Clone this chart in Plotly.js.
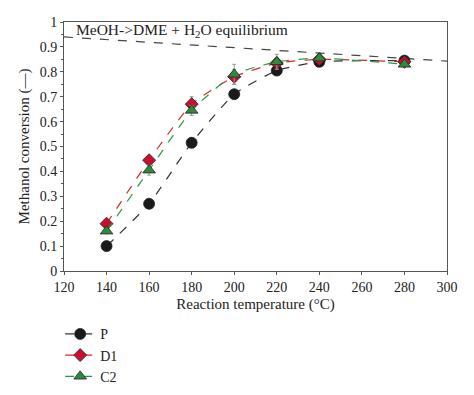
<!DOCTYPE html>
<html><head><meta charset="utf-8">
<script src="https://cdn.plot.ly/plotly-3.0.1.min.js"></script>
<style>html,body{margin:0;padding:0;background:#fff}#chart{width:474px;height:395px}</style>
</head><body><div id="chart"></div>
<script>
const temps = [140, 160, 180, 200, 220, 240, 280];
const convP  = [0.10, 0.27, 0.515, 0.71, 0.805, 0.84, 0.845];
const convD1 = [0.19, 0.445, 0.67, 0.78, 0.835, 0.85, 0.84];
const convC2 = [0.16, 0.405, 0.645, 0.79, 0.84, 0.855, 0.83];
const errP  = [0.01, 0.01, 0.02, 0.015, 0.015, 0.01, 0.01];
const errD1 = [0.01, 0.015, 0.03, 0.03, 0.02, 0.01, 0.01];
const errC2 = [0.01, 0.02, 0.02, 0.04, 0.03, 0.01, 0.01];
const eqT = [120, 300];
const eqConv = [0.94, 0.843];
const seriesNames = ['P', 'D1', 'C2'];

const serif = '"Liberation Serif", "Times New Roman", serif';
function mk(y, err, name, color, sym, size, lineColor) {
  return {
    x: temps, y: y, name: name, type: 'scatter', mode: 'lines+markers',
    line: {color: lineColor, dash: 'dash', width: 1.2, shape: 'spline', smoothing: 0.5},
    marker: {color: color, symbol: sym, size: size, line: {color: '#222', width: 0.8}},
    error_y: {type: 'data', array: err, visible: true, color: '#999', thickness: 1, width: 2}
  };
}
const data = [
  {x: eqT, y: eqConv, type: 'scatter', mode: 'lines', showlegend: false, hoverinfo: 'skip',
   line: {color: '#444', dash: 'dash', width: 1.2}},
  mk(convP, errP, seriesNames[0], '#1a1a1a', 'circle', 11, '#333'),
  mk(convD1, errD1, seriesNames[1], '#c8102e', 'diamond', 10, '#d42a2a'),
  mk(convC2, errC2, seriesNames[2], '#2e8b3e', 'triangle-up', 11, '#2a9a40')
];
const layout = {
  width: 474, height: 395,
  margin: {l: 64, r: 27, t: 22, b: 124, autoexpand: false},
  paper_bgcolor: '#fff', plot_bgcolor: '#fff',
  font: {family: serif, size: 14, color: '#222'},
  showlegend: true,
  legend: {x: -0.01, y: -0.19, xanchor: 'left', yanchor: 'top', orientation: 'v',
           font: {family: serif, size: 14, color: '#222'}, tracegroupgap: 0, itemwidth: 30},
  xaxis: {range: [120, 300], dtick: 20, tick0: 120, ticks: 'outside', ticklen: 3,
          showline: true, linecolor: '#555', linewidth: 1, mirror: true, showgrid: false, zeroline: false,
          tickcolor: '#555', tickfont: {family: serif, size: 14},
          title: {text: 'Reaction temperature (°C)', font: {family: serif, size: 15}, standoff: 4}},
  yaxis: {range: [0, 1], dtick: 0.1, ticks: 'outside', ticklen: 3,
          showline: true, linecolor: '#555', linewidth: 1, mirror: true, showgrid: false, zeroline: false,
          tickcolor: '#555', tickfont: {family: serif, size: 14},
          minor: {dtick: 0.05, ticks: 'outside', ticklen: 2, tickcolor: '#555'},
          title: {text: 'Methanol conversion (—)', font: {family: serif, size: 15}, standoff: 6}},
  annotations: [{x: 124.5, y: 0.966, xref: 'x', yref: 'y', xanchor: 'left', yanchor: 'middle',
    text: 'MeOH->DME + H<sub>2</sub>O equilibrium', showarrow: false,
    font: {family: serif, size: 15.5, color: '#222'}}]
};
Plotly.newPlot('chart', data, layout, {displayModeBar: false});
</script></body></html>
